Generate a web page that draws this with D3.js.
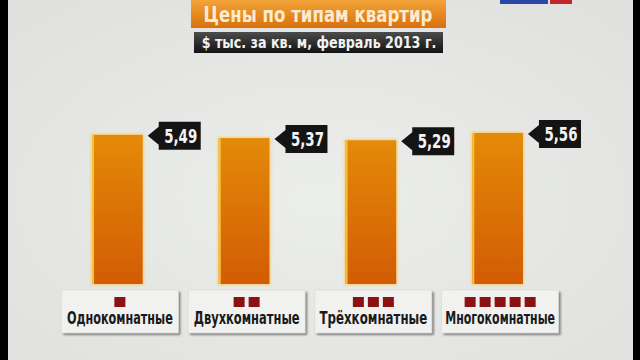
<!DOCTYPE html>
<html>
<head>
<meta charset="utf-8">
<script src="https://cdn.jsdelivr.net/npm/d3@7"></script>
<style>
  html, body { margin: 0; padding: 0; background: #000; }
  svg { display: block; }
</style>
</head>
<body>
<div id="chart"></div>
<script>
const categories = ['Однокомнатные', 'Двухкомнатные', 'Трёхкомнатные', 'Многокомнатные'];
const values = [5.49, 5.37, 5.29, 5.56];
const valueLabels = ['5,49', '5,37', '5,29', '5,56'];
const roomMarks = [1, 2, 3, 5];
const labelWidths = [106, 106, 108, 110];

const title = 'Цены по типам квартир';
const subtitle = '$ тыс. за кв. м, февраль 2013 г.';

const width = 640, height = 360;
const condensed = '"Liberation Sans Narrow", "DejaVu Sans Condensed", "Roboto", sans-serif';

const svg = d3.select('#chart')
  .append('svg')
  .attr('width', width)
  .attr('height', height);

const defs = svg.append('defs');

// squeeze a centred text horizontally to a given width
function fitText(sel, cxFn, yFn, wFn) {
  sel.each(function (d, i) {
    const t = d3.select(this);
    const natural = this.getComputedTextLength();
    const w = typeof wFn === 'function' ? wFn(d, i) : wFn;
    const s = natural > 0 ? w / natural : 1;
    const cx = typeof cxFn === 'function' ? cxFn(d, i) : cxFn;
    const yy = typeof yFn === 'function' ? yFn(d, i) : yFn;
    t.attr('x', 0).attr('y', 0)
      .attr('transform', `translate(${cx},${yy}) scale(${s},1)`);
  });
}

// background glow
const bg = defs.append('radialGradient').attr('id', 'bg')
  .attr('cx', '50%').attr('cy', '55%').attr('r', '70%');
bg.append('stop').attr('offset', '0%').attr('stop-color', '#eceeec');
bg.append('stop').attr('offset', '100%').attr('stop-color', '#e0e1df');

const barGrad = defs.append('linearGradient').attr('id', 'barGrad')
  .attr('x1', 0).attr('y1', 0).attr('x2', 0).attr('y2', 1);
barGrad.append('stop').attr('offset', '0%').attr('stop-color', '#e48a08');
barGrad.append('stop').attr('offset', '100%').attr('stop-color', '#d25c04');

const titleGrad = defs.append('linearGradient').attr('id', 'titleGrad')
  .attr('x1', 0).attr('y1', 0).attr('x2', 0).attr('y2', 1);
titleGrad.append('stop').attr('offset', '0%').attr('stop-color', '#f2a43a');
titleGrad.append('stop').attr('offset', '100%').attr('stop-color', '#d9700c');

const subGrad = defs.append('linearGradient').attr('id', 'subGrad')
  .attr('x1', 0).attr('y1', 0).attr('x2', 0).attr('y2', 1);
subGrad.append('stop').attr('offset', '0%').attr('stop-color', '#4c4c4c');
subGrad.append('stop').attr('offset', '100%').attr('stop-color', '#121212');

const glow = defs.append('filter').attr('id', 'glow')
  .attr('x', '-20%').attr('y', '-20%').attr('width', '140%').attr('height', '140%');
glow.append('feGaussianBlur').attr('stdDeviation', 1.5);

const shadow = defs.append('filter').attr('id', 'shadow')
  .attr('x', '-10%').attr('y', '-10%').attr('width', '130%').attr('height', '140%');
shadow.append('feGaussianBlur').attr('stdDeviation', 1);

svg.append('rect')
  .attr('x', 8).attr('y', 0)
  .attr('width', 625).attr('height', height)
  .attr('fill', 'url(#bg)');

// channel logo scraps, top right
svg.append('rect').attr('x', 500).attr('y', 0).attr('width', 48).attr('height', 4).attr('fill', '#2a48a8');
svg.append('rect').attr('x', 550).attr('y', 0).attr('width', 22).attr('height', 4).attr('fill', '#c02828');

// Title
svg.append('rect')
  .attr('x', 191).attr('y', 0)
  .attr('width', 255).attr('height', 28)
  .attr('fill', 'url(#titleGrad)');

svg.append('text')
  .attr('text-anchor', 'middle')
  .attr('font-family', condensed)
  .attr('font-weight', 'bold')
  .attr('font-size', '21px')
  .attr('fill', '#fdebd0')
  .text(title)
  .call(fitText, 318, 22, 229);

svg.append('rect')
  .attr('x', 194).attr('y', 32)
  .attr('width', 249).attr('height', 21)
  .attr('fill', 'url(#subGrad)');

svg.append('text')
  .attr('text-anchor', 'middle')
  .attr('font-family', condensed)
  .attr('font-weight', 'bold')
  .attr('font-size', '16px')
  .attr('fill', '#f2f2f2')
  .text(subtitle)
  .call(fitText, 319, 48, 235);

// Scales
const x = d3.scaleBand()
  .domain(categories)
  .range([54, 561])
  .paddingInner(0.6)
  .paddingOuter(0.3);

const y = d3.scaleLinear()
  .domain([0, 6])
  .range([284, 121]);

const data = categories.map((c, i) => ({
  name: c, value: values[i], label: valueLabels[i], rooms: roomMarks[i], tw: labelWidths[i]
}));

const groups = svg.append('g').selectAll('g')
  .data(data)
  .join('g');

// bar glow
groups.append('rect')
  .attr('x', d => x(d.name) - 1)
  .attr('y', d => y(d.value) - 1)
  .attr('width', x.bandwidth() + 2)
  .attr('height', d => y(0) - y(d.value) + 2)
  .attr('fill', '#f6cf70')
  .attr('filter', 'url(#glow)');

groups.append('rect')
  .attr('x', d => x(d.name))
  .attr('y', d => y(d.value))
  .attr('width', x.bandwidth())
  .attr('height', d => y(0) - y(d.value))
  .attr('fill', 'url(#barGrad)');

// highlight on left edge
groups.append('rect')
  .attr('x', d => x(d.name))
  .attr('y', d => y(d.value))
  .attr('width', 2)
  .attr('height', d => y(0) - y(d.value))
  .attr('fill', '#f7c23a');

// value tags
const tagH = 28, tagW = 42, tip = 11;
groups.append('path')
  .attr('d', d => {
    const x0 = x(d.name) + x.bandwidth() + 5;
    const cy = y(d.value) + 1;
    const top = cy - tagH / 2, bot = cy + tagH / 2;
    return `M${x0},${cy} L${x0 + tip},${cy - 9} L${x0 + tip},${top} L${x0 + tip + tagW},${top}` +
      ` L${x0 + tip + tagW},${bot} L${x0 + tip},${bot} L${x0 + tip},${cy + 9} Z`;
  })
  .attr('fill', '#141414');

groups.append('text')
  .attr('text-anchor', 'middle')
  .attr('font-family', condensed)
  .attr('font-weight', 'bold')
  .attr('font-size', '19px')
  .attr('fill', '#f4f4f4')
  .text(d => d.label)
  .call(fitText,
    d => x(d.name) + x.bandwidth() + 5 + tip + tagW / 2 + 1,
    d => y(d.value) + 8,
    33);

// category boxes
const boxW = 117, boxTop = 290, boxH = 43;
const cx = d => x(d.name) + x.bandwidth() / 2 + 2.5;

groups.append('rect')
  .attr('x', d => cx(d) - boxW / 2 + 2)
  .attr('y', boxTop + 2)
  .attr('width', boxW)
  .attr('height', boxH)
  .attr('fill', '#7a7a7a')
  .attr('filter', 'url(#shadow)');

groups.append('rect')
  .attr('x', d => cx(d) - boxW / 2)
  .attr('y', boxTop)
  .attr('width', boxW)
  .attr('height', boxH)
  .attr('fill', '#f1f1ef')
  .attr('stroke', '#dcdcda')
  .attr('stroke-width', 0.8);

// room squares
const sq = 11, gap = 4;
groups.each(function (d) {
  const total = d.rooms * sq + (d.rooms - 1) * gap;
  d3.select(this).selectAll('rect.room')
    .data(d3.range(d.rooms))
    .join('rect')
    .attr('class', 'room')
    .attr('x', k => cx(d) - total / 2 + k * (sq + gap))
    .attr('y', 297)
    .attr('width', sq)
    .attr('height', 10)
    .attr('fill', '#8a1212');
});

groups.append('text')
  .attr('text-anchor', 'middle')
  .attr('font-family', condensed)
  .attr('font-weight', 'bold')
  .attr('font-size', '17px')
  .attr('fill', '#1a1a1a')
  .text(d => d.name)
  .call(fitText, d => cx(d), 324, d => d.tw);
</script>
</body>
</html>
